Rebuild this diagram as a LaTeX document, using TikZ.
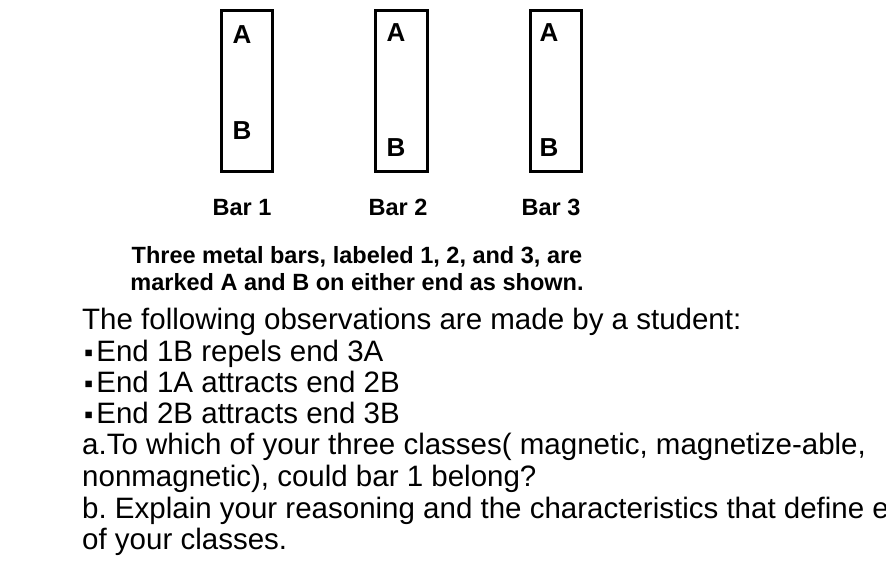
\documentclass[tikz,border=0pt]{standalone}
\usepackage{fontspec}
\setmainfont{Liberation Sans}
\frenchspacing
\begin{document}
\begin{tikzpicture}[x=1pt,y=-1pt,
 bar/.style={draw,line width=3pt},
 lab/.style={font=\bfseries\fontsize{23.5}{28}\selectfont,anchor=base},
 end/.style={font=\bfseries\fontsize{26}{28}\selectfont,anchor=base},
 body/.style={anchor=base west,font=\fontsize{29.5}{34}\selectfont,inner sep=0pt}]
\useasboundingbox (0,0) rectangle (886,560);
\draw[bar] (221,10) rectangle (272,171);
\draw[bar] (375,10) rectangle (427,171);
\draw[bar] (530,10) rectangle (581,171);
\node[end] (a1) at (242,43) {A};
\node[end] (b1) at (242,139) {B};
\node[end] (a2) at (396,41) {A};
\node[end] (b2) at (396,156) {B};
\node[end] (a3) at (549,41) {A};
\node[end] (b3) at (549,156) {B};
\node[lab] (l1) at (242,215) {Bar 1};
\node[lab] (l2) at (398,215) {Bar 2};
\node[lab] (l3) at (551,215) {Bar 3};
\node[align=center,font=\bfseries\fontsize{23.5}{27}\selectfont] (cap) at (357,269) {Three metal bars, labeled 1, 2, and 3, are\\marked A and B on either end as shown.};
\node[body] (t1) at (82,329) {The following observations are made by a student:};
\node[body] (t2) at (84,361) {{\fontsize{26}{26}\selectfont▪}\kern3pt End 1B repels end 3A};
\node[body] (t3) at (84,392) {{\fontsize{26}{26}\selectfont▪}\kern3pt End 1A attracts end 2B};
\node[body] (t4) at (84,423) {{\fontsize{26}{26}\selectfont▪}\kern3pt End 2B attracts end 3B};
\node[body] (t5) at (82,454) {a.To which of your three classes( magnetic, magnetize-able,};
\node[body] (t6) at (82,486) {nonmagnetic), could bar 1 belong?};
\node[body] (t7) at (82,518) {b. Explain your reasoning and the characteristics that define each};
\node[body] (t8) at (82,549) {of your classes.};
\end{tikzpicture}
\end{document}
